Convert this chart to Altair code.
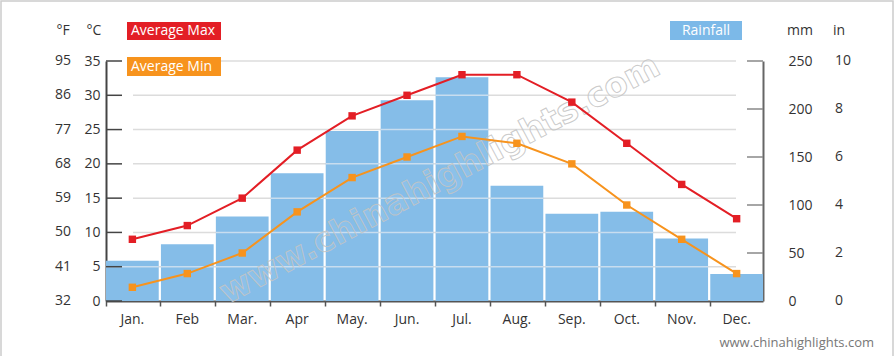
import altair as alt
import pandas as pd

months = ["Jan.", "Feb", "Mar.", "Apr", "May.", "Jun.", "Jul.", "Aug.", "Sep.", "Oct.", "Nov.", "Dec."]
avg_max = [9, 11, 15, 22, 27, 30, 33, 33, 29, 23, 17, 12]
avg_min = [2, 4, 7, 13, 18, 21, 24, 23, 20, 14, 9, 4]
rainfall = [42, 59, 88, 133, 177, 209, 233, 120, 91, 93, 65, 28]

temp_c_ticks = [0, 5, 10, 15, 20, 25, 30, 35]
temp_f_labels = ["32", "41", "50", "59", "68", "77", "86", "95"]
rain_mm_ticks = [0, 50, 100, 150, 200, 250]
rain_in_labels = ["0", "2", "4", "6", "8", "10"]
grid_levels = [5, 10, 15, 20, 25, 30, 35]

legend_temp = ["Average Max", "Average Min"]
legend_rain = ["Rainfall"]
unit_left = ["°F", "°C"]
unit_right = ["mm", "in"]
watermark = ["www.chinahighlights.com"]
site = ["www.chinahighlights.com"]

RED = "#e31e25"
ORANGE = "#f7931d"
BLUE = "#85bde8"
FONT = "Open Sans"

W, H = 657, 240
TDOM = [0, 35]
RDOM = [0, 250]

xenc = alt.X("month:N", sort=months, scale=alt.Scale(paddingInner=0.04, paddingOuter=0),
             axis=alt.Axis(title=None, labelAngle=0, bandPosition=0, tickSize=5, tickColor="#555",
                           tickWidth=1.5, domainColor="#555", domainWidth=2, labelFontSize=14,
                           labelColor="#333", labelFont=FONT, labelPadding=6, grid=False))

df_rain = pd.DataFrame({"month": months, "rain": rainfall})
df_temp = pd.DataFrame({"month": months * 2,
                        "temp": avg_max + avg_min,
                        "series": ["Average Max"] * 12 + ["Average Min"] * 12})

# gray grid behind bars
grid_bg = alt.Chart(pd.DataFrame({"lvl": grid_levels})).mark_rule(color="#dcdcdc", strokeWidth=1.5).encode(
    y=alt.Y("lvl:Q", scale=alt.Scale(domain=TDOM, nice=False), axis=None),
    x=alt.value(27), x2=alt.value(630))

bars = alt.Chart(df_rain).mark_bar(color=BLUE).encode(
    x=xenc,
    y=alt.Y("rain:Q", scale=alt.Scale(domain=RDOM, nice=False),
            axis=alt.Axis(orient="right", title=None, values=rain_mm_ticks, ticks=False, tickSize=0,
                          grid=False, domainColor="#666", domainWidth=2, labelPadding=25,
                          labelFontSize=14, labelColor="#333", labelFont=FONT)))

# light grid lines across bars
rows = []
for m, r in zip(months, rainfall):
    for lvl in grid_levels:
        if lvl / 35 < r / 250:
            rows.append({"month": m, "lvl": lvl})
grid_fg = alt.Chart(pd.DataFrame(rows)).mark_tick(color="#e4ebf2", thickness=1.5, size=52.7).encode(
    x=alt.X("month:N", sort=months),
    y=alt.Y("lvl:Q", scale=alt.Scale(domain=TDOM, nice=False), axis=None))

# inward ticks
lt = alt.Chart(pd.DataFrame({"v": temp_c_ticks})).mark_rule(color="#444", strokeWidth=1.5).encode(
    y=alt.Y("v:Q", scale=alt.Scale(domain=TDOM, nice=False), axis=None),
    x=alt.value(0), x2=alt.value(16))
rt = alt.Chart(pd.DataFrame({"v": rain_mm_ticks[1:]})).mark_rule(color="#888", strokeWidth=1.5).encode(
    y=alt.Y("v:Q", scale=alt.Scale(domain=RDOM, nice=False), axis=None),
    x=alt.value(641), x2=alt.value(657))

# watermark
wm = alt.Chart(pd.DataFrame({"t": watermark})).mark_text(
    font="DejaVu Sans", fontWeight="bold", fontSize=34, angle=332, fill="white", fillOpacity=0.08,
    stroke="#c4c4c4", strokeWidth=1, strokeOpacity=0.9, align="center", baseline="middle").encode(
    text="t:N", x=alt.value(334), y=alt.value(119))

lines = alt.Chart(df_temp).mark_line(strokeWidth=2, point=alt.OverlayMarkDef(shape="square", size=55, filled=True, opacity=1)).encode(
    x=alt.X("month:N", sort=months),
    y=alt.Y("temp:Q", scale=alt.Scale(domain=TDOM, nice=False),
            axis=alt.Axis(orient="left", title=None, values=temp_c_ticks, ticks=False, tickSize=0,
                          grid=False, domainColor="#444", domainWidth=2, labelPadding=6,
                          labelFontSize=14, labelColor="#333", labelFont=FONT)),
    color=alt.Color("series:N", scale=alt.Scale(domain=legend_temp, range=[RED, ORANGE]), legend=None))

fl = alt.Chart(pd.DataFrame({"v": temp_c_ticks, "t": temp_f_labels})).mark_text(
    align="right", baseline="middle", fontSize=14, color="#333", font=FONT).encode(
    y=alt.Y("v:Q", scale=alt.Scale(domain=TDOM, nice=False), axis=None),
    text="t:N", x=alt.value(-35))
il = alt.Chart(pd.DataFrame({"v": rain_mm_ticks, "t": rain_in_labels})).mark_text(
    align="left", baseline="middle", fontSize=14, color="#333", font=FONT).encode(
    y=alt.Y("v:Q", scale=alt.Scale(domain=RDOM, nice=False), axis=None),
    text="t:N", x=alt.value(729))

hdr_l = alt.Chart(pd.DataFrame({"t": unit_left, "px": [-43, -12]})).mark_text(
    align="center", baseline="middle", fontSize=14, color="#333", font=FONT).encode(
    text="t:N", x=alt.X("px:Q", scale=None), y=alt.value(-30))
hdr_r = alt.Chart(pd.DataFrame({"t": unit_right, "px": [694, 733]})).mark_text(
    align="center", baseline="middle", fontSize=14, color="#333", font=FONT).encode(
    text="t:N", x=alt.X("px:Q", scale=None), y=alt.value(-30))

# legend boxes
leg_max_box = alt.Chart(pd.DataFrame({"t": [legend_temp[0]]})).mark_rect(color=RED).encode(
    x=alt.value(21), x2=alt.value(115), y=alt.value(-39), y2=alt.value(-21))
leg_max_txt = alt.Chart(pd.DataFrame({"t": [legend_temp[0]]})).mark_text(
    align="left", baseline="middle", fontSize=14, color="white", font=FONT).encode(
    text="t:N", x=alt.value(25), y=alt.value(-30))
leg_min_box = alt.Chart(pd.DataFrame({"t": [legend_temp[1]]})).mark_rect(color=ORANGE).encode(
    x=alt.value(21), x2=alt.value(115), y=alt.value(-4), y2=alt.value(15))
leg_min_txt = alt.Chart(pd.DataFrame({"t": [legend_temp[1]]})).mark_text(
    align="left", baseline="middle", fontSize=14, color="white", font=FONT).encode(
    text="t:N", x=alt.value(25), y=alt.value(5.5))
leg_rain_box = alt.Chart(pd.DataFrame({"t": legend_rain})).mark_rect(color="#7cb9e8").encode(
    x=alt.value(564), x2=alt.value(636), y=alt.value(-40), y2=alt.value(-21))
leg_rain_txt = alt.Chart(pd.DataFrame({"t": legend_rain})).mark_text(
    align="center", baseline="middle", fontSize=14, color="white", font=FONT).encode(
    text="t:N", x=alt.value(600), y=alt.value(-30.5))

site_txt = alt.Chart(pd.DataFrame({"t": site})).mark_text(
    align="right", baseline="middle", fontSize=13, color="#777", font=FONT).encode(
    text="t:N", x=alt.value(768), y=alt.value(282))

border = alt.Chart(pd.DataFrame({"t": ["frame"]})).mark_rect(fill=None, stroke="#cccccc", strokeWidth=1.5).encode(
    x=alt.value(-105), x2=alt.value(787), y=alt.value(-60), y2=alt.value(320))

chart = alt.layer(
    border, grid_bg, bars, grid_fg, wm, lt, rt, lines, fl, il, hdr_l, hdr_r,
    leg_max_box, leg_max_txt, leg_min_box, leg_min_txt, leg_rain_box, leg_rain_txt, site_txt
).resolve_scale(y="independent").properties(
    width=W, height=H,
    autosize=alt.AutoSizeParams(type="none"),
    padding={"left": 106, "top": 61, "right": 132, "bottom": 55},
    background="white"
).configure_view(stroke=None)

chart.save("out.html", embed_options={"renderer": "svg", "actions": False})
